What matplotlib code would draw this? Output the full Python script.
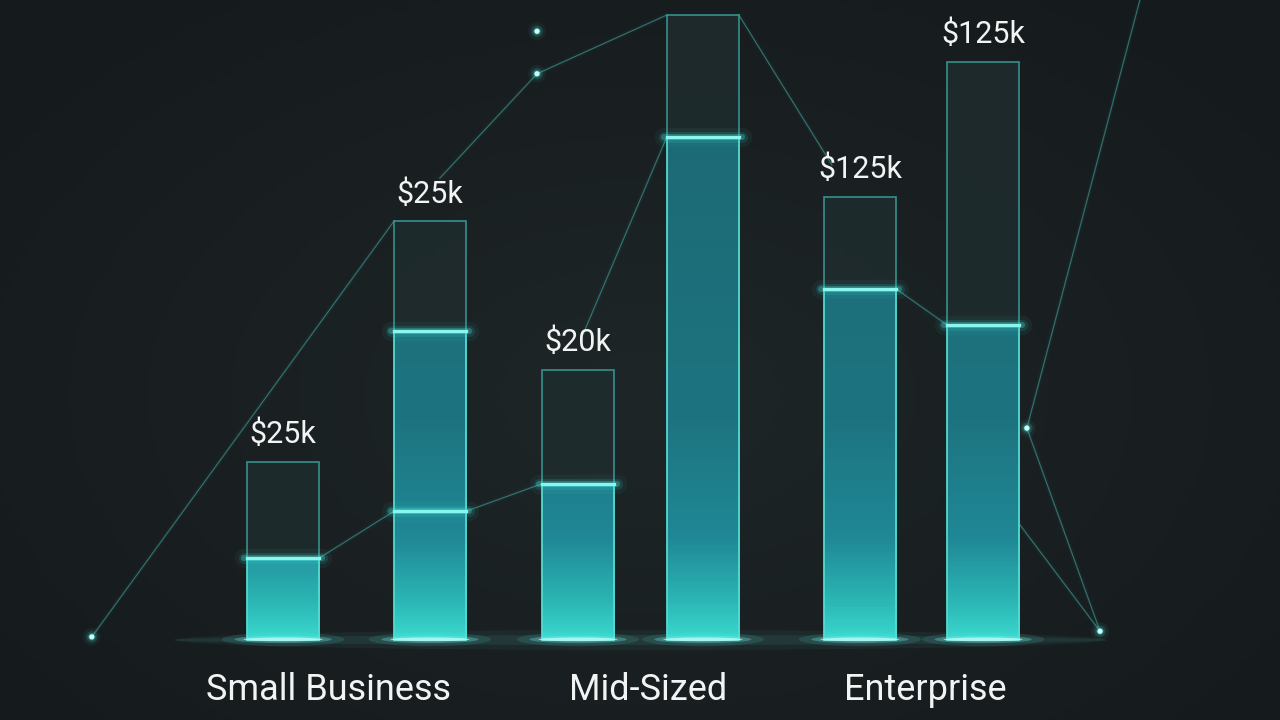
import numpy as np
import matplotlib
matplotlib.use("Agg")
import matplotlib.pyplot as plt
from matplotlib.patches import Rectangle, Ellipse
from matplotlib.colors import LinearSegmentedColormap

# data
categories = ["Small Business", "Mid-Sized", "Enterprise"]
bar_group = [0, 0, 1, 1, 2, 2]
bar_side = [-1, 1, -1, 1, -1, 1]
bar_labels = ["$25k", "$25k", "$20k", "$40k", "$125k", "$125k"]
bar_total = [28.5, 67.0, 43.2, 100.0, 70.9, 92.5]
bar_fill = [13.1, 49.4, 25.0, 80.5, 56.2, 50.4]
extra_marks = {1: 20.6}  # bar index -> extra glowing level

# decorative network (free points)
free_dots_x = [-0.942, 0.634, 0.634, 2.368, 2.627]
free_dots_y = [0.5, 97.4, 90.6, 33.9, 1.4]

BG = "#1b2124"
OUTLINE = "#3fb3ad"
GLOW = "#8af6ee"
LINE = "#3d9c98"
WIDTH = 0.255
group_center = [-0.005, 1.0, 1.995]
group_offset = [0.26, 0.221, 0.218]
label_x = [-0.103, 1.027, 2.01]

fig = plt.figure(figsize=(12.8, 7.2), dpi=100)
fig.patch.set_facecolor(BG)
ax = fig.add_axes([0, 0, 1, 1])
xlim = (-1.267, 3.264)
ylim = (-12.8, 102.4)
ax.set_xlim(*xlim)
ax.set_ylim(*ylim)
ax.axis("off")

# background with soft vignette
yy, xx = np.mgrid[0:1:200j, 0:1:360j]
r = np.sqrt(((xx - 0.5) / 0.8) ** 2 + ((yy - 0.45) / 0.9) ** 2)
bg_cmap = LinearSegmentedColormap.from_list("bg", ["#1e2628", "#1a2022", "#151a1c"])
ax.imshow(r, cmap=bg_cmap, extent=(*xlim, *ylim), aspect="auto", zorder=0,
          vmin=0, vmax=0.8, origin="lower")

bar_x = [group_center[g] + s * group_offset[g] for g, s in zip(bar_group, bar_side)]


def left(i):
    return bar_x[i] - WIDTH / 2


def right(i):
    return bar_x[i] + WIDTH / 2


def glow_line(xs, ys, lw=1.0, color=LINE, alpha=0.8, z=2):
    for w, a in [(lw * 5, 0.03), (lw * 2.5, 0.06)]:
        ax.plot(xs, ys, color=color, lw=w, alpha=a, zorder=z, solid_capstyle="round")
    ax.plot(xs, ys, color=color, lw=lw, alpha=alpha, zorder=z)


# thin connecting lines
paths = [
    ([free_dots_x[0], left(1)], [free_dots_y[0], bar_total[1]]),
    ([0.29, free_dots_x[2], left(3)], [73.9, free_dots_y[2], bar_total[3]]),
    ([right(3), 1.678], [bar_total[3], 76.0]),
    ([right(4), left(5)], [bar_fill[4], bar_fill[5]]),
    ([2.768, free_dots_x[3], free_dots_x[4]], [102.4, free_dots_y[3], free_dots_y[4]]),
    ([right(5), free_dots_x[4]], [18.6, free_dots_y[4]]),
    ([right(0), left(1)], [bar_fill[0], extra_marks[1]]),
    ([right(1), left(2)], [extra_marks[1], bar_fill[2]]),
    ([0.793, left(3)], [48.5, bar_fill[3]]),
]
for xs, ys in paths:
    glow_line(xs, ys, lw=0.8, alpha=0.65)

# fill colour depends on absolute height: bright near the floor, deep teal above
fill_cmap = LinearSegmentedColormap.from_list(
    "fill", [(0.0, "#3ad8cf"), (0.06, "#2bb6b4"), (0.16, "#208896"),
             (0.35, "#1d7480"), (1.0, "#1c6670")])

# base glow band behind the bars
for w, a in [(3.2, 0.05), (1.6, 0.08)]:
    ax.add_patch(Ellipse((1.0, 0), 3.3, w, facecolor="#5fe8de", edgecolor="none",
                         alpha=a, zorder=2.5))

for i in range(len(bar_x)):
    x0, x1 = left(i), right(i)
    top, fill = bar_total[i], bar_fill[i]
    # empty upper part
    ax.add_patch(Rectangle((x0, fill), WIDTH, top - fill, facecolor="#1f2d2f",
                           alpha=0.8, edgecolor="none", zorder=3))
    ax.add_patch(Rectangle((x0, fill), WIDTH, top - fill, facecolor="none",
                           edgecolor=OUTLINE, lw=1.2, alpha=0.75, zorder=4))
    # gradient fill
    g = np.linspace(0, fill / 100.0, 256).reshape(-1, 1)
    ax.imshow(g, cmap=fill_cmap, extent=(x0, x1, 0, fill), aspect="auto",
              origin="lower", vmin=0, vmax=1, zorder=3.5)
    ax.add_patch(Rectangle((x0, 0), WIDTH, fill, facecolor="none",
                           edgecolor="#55dcd3", lw=1.4, alpha=0.9, zorder=4))
    # glowing level lines
    levels = [fill] + ([extra_marks[i]] if i in extra_marks else [])
    for lv in levels:
        for w, a in [(14, 0.05), (8, 0.12), (4.5, 0.3)]:
            ax.plot([x0 - 0.01, x1 + 0.01], [lv, lv], color="#3fe6dc", lw=w,
                    alpha=a, zorder=5, solid_capstyle="round")
        ax.plot([x0, x1], [lv, lv], color=GLOW, lw=2.4, zorder=5.5)
    # base glow
    for w, h, a, c in [(1.7, 2.2, 0.12, "#5ff0e6"), (1.35, 1.2, 0.3, "#7ff6ee"),
                       (1.1, 0.6, 0.7, "#c9fffb")]:
        ax.add_patch(Ellipse((bar_x[i], 0.1), WIDTH * w, h, facecolor=c,
                             edgecolor="none", alpha=a, zorder=4.5))
    # value label
    ax.annotate(bar_labels[i], (bar_x[i], top), xytext=(0, 9),
                textcoords="offset points", ha="center", va="bottom",
                fontsize=22, color="#f2f4f4", family="Roboto", zorder=6)

# glowing dots
for x, y in zip(free_dots_x, free_dots_y):
    for s, a in [(160, 0.06), (70, 0.15), (28, 0.35)]:
        ax.scatter([x], [y], s=s, color="#4fe8de", alpha=a, edgecolors="none", zorder=6)
    ax.scatter([x], [y], s=14, color="#c8fffb", edgecolors="none", zorder=6.5)

# category labels
for xp, name in zip(label_x, categories):
    ax.text(xp, -8.0, name, ha="center", va="center", fontsize=26,
            color="#f2f4f4", family="Roboto", zorder=6)

fig.savefig("out.png", dpi=100, facecolor=BG)
